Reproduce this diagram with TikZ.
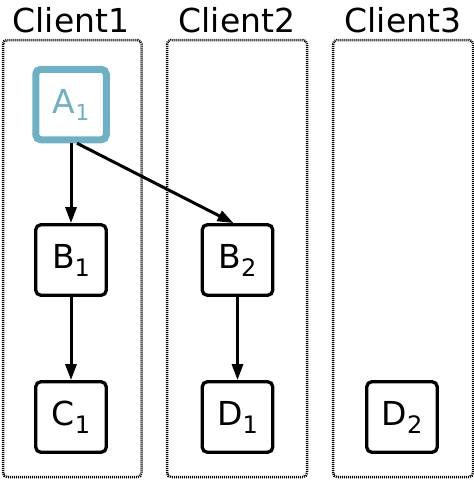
\documentclass[tikz,border=0pt]{standalone}
\usepackage{fontspec}
\setmainfont{DejaVu Sans}
\usetikzlibrary{arrows.meta}
\definecolor{hl}{HTML}{6EB1C5}
\newcommand{\sub}[1]{\raisebox{-8pt}{\fontsize{24}{24}\selectfont #1}}
\newcommand{\subs}[1]{\raisebox{-7pt}{\fontsize{22}{22}\selectfont #1}}
\tikzset{
  cluster/.style={draw, line width=2.5pt, dash pattern=on 1pt off 1pt, rounded corners=4pt},
  vbox/.style={draw, line width=3.3pt, rounded corners=5pt, minimum width=70.5pt, minimum height=70.5pt, inner sep=0pt, font=\fontsize{33}{33}\selectfont},
  hbox/.style={vbox, draw=hl, text=hl, line width=7pt, minimum width=70.5pt, minimum height=70.5pt},
  title/.style={anchor=base, inner sep=0pt, font=\fontsize{33}{33}\selectfont},
  edge/.style={line width=3pt, -{Triangle[length=16pt,width=11pt]}}
}
\begin{document}
\begin{tikzpicture}[x=1pt,y=-1pt]
\useasboundingbox (0,0) rectangle (474,480);
\draw[cluster] (3,40) rectangle (141.5,477);
\draw[cluster] (167,40) rectangle (307,477);
\draw[cluster] (333,40) rectangle (473,477);
\node[title] (t1) at (71,32) {Client1};
\node[title] (t2) at (237,32) {Client2};
\node[title] (t3) at (403,32) {Client3};
\node[hbox] (A1) at (71,104.5) {A\subs{1}};
\node[vbox] (B1) at (71,260) {B\sub{1}};
\node[vbox] (C1) at (71,417) {C\sub{1}};
\node[vbox] (B2) at (237.5,260) {B\sub{2}};
\node[vbox] (D1) at (237.5,417) {D\sub{1}};
\node[vbox] (D2) at (402,417) {D\sub{2}};
\draw[edge] (A1.south) -- (B1.north);
\draw[edge] ([xshift=6pt]A1.south) -- ([xshift=-4pt]B2.north);
\draw[edge] (B1.south) -- (C1.north);
\draw[edge] (B2.south) -- (D1.north);
\end{tikzpicture}
\end{document}
